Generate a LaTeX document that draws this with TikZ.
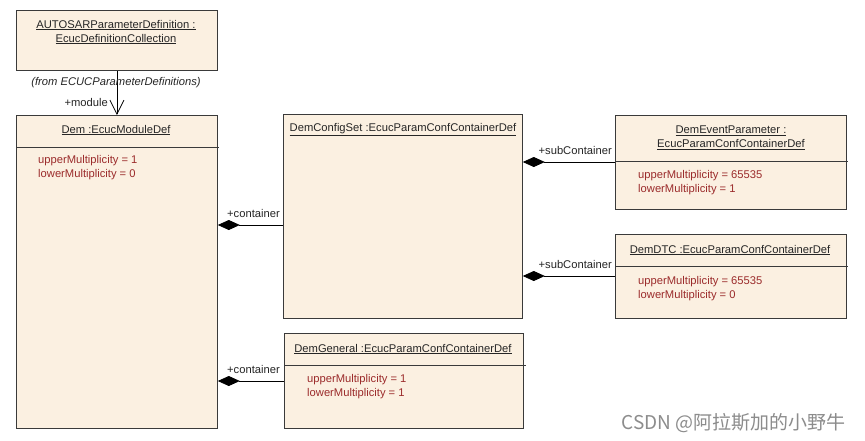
\documentclass[tikz,border=0pt]{standalone}
\usepackage{fontspec}
\setmainfont{Liberation Sans}
\newfontfamily\cjk{Noto Sans CJK SC}
\usepackage{tikz}
\usetikzlibrary{arrows.meta,calc,positioning}

\definecolor{cream}{HTML}{FBF0E1}
\definecolor{attrred}{HTML}{9B2B2B}
\definecolor{edge}{HTML}{3A3A3A}

\begin{document}
\begin{tikzpicture}[
            x=1pt, y=-1pt,
            font=\fontsize{11.2}{14}\selectfont,
            box/.style={draw=edge, fill=cream, thick, rectangle, anchor=north west, inner sep=0pt},
            title/.style={align=center, text=black!85, inner sep=1pt},
            attr/.style={align=left, anchor=north west, text=attrred, inner sep=0pt},
            sep/.style={draw=edge, thick},
            lbl/.style={inner sep=1pt, text=black!85},
            comp/.style={{Diamond[length=22pt,width=10pt]}-, draw=black, thick},
            assoc/.style={-{Straight Barb[length=14pt,width=14pt]}, draw=black, thick}
        ]
        \useasboundingbox[fill=white] (0,0) rectangle (865,440);

        % boxes
        \node[box, minimum width=201pt, minimum height=60pt] (defcoll) at (16,10) {};
        \node[box, minimum width=201pt, minimum height=313pt] (dem) at (16,115) {};
        \node[box, minimum width=239pt, minimum height=204pt] (configset) at (283,114) {};
        \node[box, minimum width=231pt, minimum height=94pt] (eventpar) at (615,115) {};
        \node[box, minimum width=231pt, minimum height=84pt] (dtc) at (615,234) {};
        \node[box, minimum width=239pt, minimum height=95pt] (general) at (284,333) {};

        % compartments
        \draw[sep] ([yshift=-32pt]dem.north west) -- ++(203,0);
        \draw[sep] ([yshift=-46pt]eventpar.north west) -- ++(233,0);
        \draw[sep] ([yshift=-32pt]dtc.north west) -- ++(233,0);
        \draw[sep] ([yshift=-32pt]general.north west) -- ++(242,0);

        % titles
        \node[title] (defcolltitle) at (116,32) {\underline{AUTOSARParameterDefinition :}\\\underline{EcucDefinitionCollection}};
        \node[title] (demtitle) at (116,130) {\underline{Dem :EcucModuleDef}};
        \node[title] (configsettitle) at (403,130) {\underline{DemConfigSet :EcucParamConfContainerDef}};
        \node[title] (eventpartitle) at (731,138) {\underline{DemEventParameter :}\\\underline{EcucParamConfContainerDef}};
        \node[title] (dtctitle) at (730,250) {\underline{DemDTC :EcucParamConfContainerDef}};
        \node[title] (generaltitle) at (403,349) {\underline{DemGeneral :EcucParamConfContainerDef}};

        % attributes
        \node[attr] (demattr) at (38,155) {upperMultiplicity = 1\\lowerMultiplicity = 0};
        \node[attr] (eventparattr) at (638,170) {upperMultiplicity = 65535\\lowerMultiplicity = 1};
        \node[attr] (dtcattr) at (638,276) {upperMultiplicity = 65535\\lowerMultiplicity = 0};
        \node[attr] (generalattr) at (307,374) {upperMultiplicity = 1\\lowerMultiplicity = 1};

        % connectors
        \draw[assoc] (defcoll.south) -- (dem.north);
        \node[lbl, font=\fontsize{11.2}{14}\selectfont\itshape] (fromlbl) at (116,83) {(from ECUCParameterDefinitions)};
        \node[lbl, anchor=east] (modlbl) at (109,102) {+module};

        \draw[comp] ([yshift=-111pt]configset.north west -| dem.east) -- ([yshift=-111pt]configset.north west);
        \node[lbl, anchor=east] (contlbla) at (281,213) {+container};
        \draw[comp] ([yshift=-48pt]general.north west -| dem.east) -- ([yshift=-48pt]general.north west);
        \node[lbl, anchor=east] (contlblb) at (281,369) {+container};

        \draw[comp] ([yshift=-47pt]eventpar.north west -| configset.east) -- ([yshift=-47pt]eventpar.north west);
        \node[lbl, anchor=east] (sublbla) at (613,150) {+subContainer};
        \draw[comp] ([yshift=-42pt]dtc.north west -| configset.east) -- ([yshift=-42pt]dtc.north west);
        \node[lbl, anchor=east] (sublblb) at (613,264) {+subContainer};

        % watermark
        \node[anchor=east, text=black!45, font=\cjk\fontsize{19}{21}\selectfont] (mark) at (849,423) {CSDN @阿拉斯加的小野牛};
\end{tikzpicture}
\end{document}
